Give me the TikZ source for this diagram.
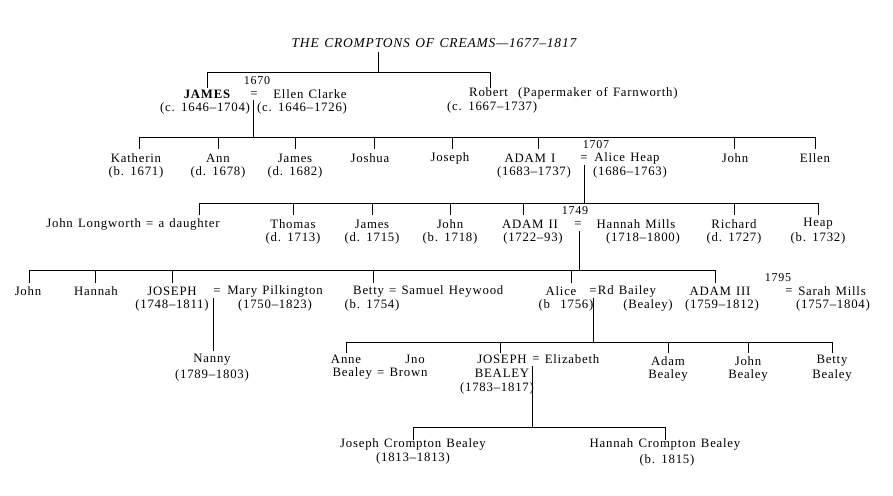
\documentclass[tikz,border=0pt]{standalone}
\usepackage{fontspec}
\setmainfont[LetterSpace=6,WordSpace=1.3]{Liberation Serif}
\begin{document}
\begin{tikzpicture}[x=1pt,y=-1pt,
  t/.style={inner sep=0pt,font=\fontsize{12.8}{13}\selectfont},
  yr/.style={inner sep=0pt,font=\fontsize{12}{12}\selectfont},
  ln/.style={line width=1pt}]
\useasboundingbox[fill=white] (0,0) rectangle (893,495);
% title
\node[t,font=\fontsize{13.5}{14}\itshape] (title) at (434,43) {THE CROMPTONS OF CREAMS---1677--1817};
\draw[ln] (378,52) -- (378,72);
\draw[ln] (207,88) |- (490,72) -- (490,88);
% generation 1
\node[t,font=\fontsize{12.8}{13}\bfseries] (james) at (207,94) {JAMES};
\node[yr] (y1670) at (257,81) {1670};
\node[t] (eq1) at (254,95) {=};
\node[t] (ellen) at (310,94) {Ellen Clarke};
\node[t] (jamesd) at (205,108) {(c. 1646--1704)};
\node[t] (ellend) at (302,108) {(c. 1646--1726)};
\node[t,anchor=west] (robert) at (469,93) {Robert\ \ (Papermaker of Farnworth)};
\node[t,anchor=west] (robertd) at (447,107) {(c. 1667--1737)};
\draw[ln] (253,100) -- (253,137);
\draw[ln] (139,137) -- (815,137);
\foreach \x in {139,218,295,374,452,538,734,815} \draw[ln] (\x,137) -- (\x,149);
% generation 2
\node[t] (kat) at (136,158) {Katherin}; \node[t] (katd) at (136,172) {(b. 1671)};
\node[t] (ann) at (218,158) {Ann}; \node[t] (annd) at (218,172) {(d. 1678)};
\node[t] (jam2) at (295,158) {James}; \node[t] (jam2d) at (295,172) {(d. 1682)};
\node[t] (joshua) at (370,158) {Joshua};
\node[t] (joseph1) at (450,158) {Joseph};
\node[t] (adam1) at (530,158) {ADAM I};
\node[yr] (y1707) at (596,145) {1707};
\node[t] (eq2) at (584,159) {=};
\node[t] (alice1) at (627,158) {Alice Heap};
\node[t] (adam1d) at (534,172) {(1683--1737)};
\node[t] (alice1d) at (630,172) {(1686--1763)};
\node[t] (john1) at (735,158) {John};
\node[t] (ellen2) at (815,158) {Ellen};
\draw[ln] (584,165) -- (584,203);
\draw[ln] (199,203) -- (818,203);
\foreach \x in {199,293,372,450,523,734,818} \draw[ln] (\x,203) -- (\x,215);
% generation 3
\node[t] (longw) at (133,224) {John Longworth = a daughter};
\node[t] (thomas) at (293,224) {Thomas}; \node[t] (thomasd) at (293,238) {(d. 1713)};
\node[t] (jam3) at (372,224) {James}; \node[t] (jam3d) at (372,238) {(d. 1715)};
\node[t] (john3) at (450,224) {John}; \node[t] (john3d) at (450,238) {(b. 1718)};
\node[t] (adam2) at (530,224) {ADAM II};
\node[yr] (y1749) at (575,211) {1749};
\node[t] (eq3) at (578,225) {=};
\node[t] (hannah) at (636,224) {Hannah Mills};
\node[t] (adam2d) at (533,238) {(1722--93)};
\node[t] (hannahd) at (643,238) {(1718--1800)};
\node[t] (richard) at (734,224) {Richard}; \node[t] (richardd) at (734,238) {(d. 1727)};
\node[t] (heap) at (818,224) {Heap}; \node[t] (heapd) at (818,238) {(b. 1732)};
\draw[ln] (579,231) -- (579,270);
\draw[ln] (29,270) -- (715,270);
\foreach \x in {29,95,172,373,571,715} \draw[ln] (\x,270) -- (\x,283);
% generation 4
\node[t] (john4) at (28,291) {John};
\node[t] (hannah4) at (96,291) {Hannah};
\node[t] (joseph4) at (172,291) {JOSEPH};
\node[t] (eq4) at (217,292) {=};
\node[t] (mary) at (275,291) {Mary Pilkington};
\node[t] (joseph4d) at (172,305) {(1748--1811)};
\node[t] (maryd) at (275,305) {(1750--1823)};
\node[t,anchor=west] (betty) at (353,291) {Betty = Samuel Heywood};
\node[t] (bettyd) at (372,305) {(b. 1754)};
\node[t] (alice4) at (561,291) {Alice};
\node[t] (eq5) at (593,292) {=};
\node[t] (rd) at (627,291) {Rd Bailey};
\node[t] (alice4d) at (566,305) {(b\ \ 1756)};
\node[t] (rdd) at (648,305) {(Bealey)};
\node[t] (adam3) at (720,291) {ADAM III};
\node[yr] (y1795) at (778,278) {1795};
\node[t] (eq6) at (789,292) {=};
\node[t] (sarah) at (832,291) {Sarah Mills};
\node[t] (adam3d) at (722,305) {(1759--1812)};
\node[t] (sarahd) at (833,305) {(1757--1804)};
\draw[ln] (213,298) -- (213,351);
\node[t] (nanny) at (212,360) {Nanny};
\node[t] (nannyd) at (212,375) {(1789--1803)};
\draw[ln] (593,298) -- (593,342);
\draw[ln] (346,342) -- (832,342);
\foreach \x in {346,500,668,748,832} \draw[ln] (\x,342) -- (\x,353);
% generation 5
\node[t] (anne) at (346,359) {Anne};
\node[t] (jno) at (415,359) {Jno};
\node[t] (anne2) at (380,373) {Bealey = Brown};
\node[t] (joseph5) at (502,359) {JOSEPH};
\node[t] (eq7) at (536,360) {=};
\node[t] (eliz) at (572,359) {Elizabeth};
\node[t] (bealey5) at (502,373) {BEALEY};
\node[t] (joseph5d) at (497,388) {(1783--1817)};
\node[t] (adamb) at (668,361) {Adam}; \node[t] (adamb2) at (668,375) {Bealey};
\node[t] (johnb) at (748,361) {John}; \node[t] (johnb2) at (748,375) {Bealey};
\node[t] (bettyb) at (832,361) {Betty}; \node[t] (bettyb2) at (832,375) {Bealey};
\draw[ln] (532,366) -- (532,427);
\draw[ln] (413,440) |- (665,427) -- (665,440);
\node[t] (jcb) at (413,444) {Joseph Crompton Bealey};
\node[t] (jcbd) at (413,458) {(1813--1813)};
\node[t] (hcb) at (665,444) {Hannah Crompton Bealey};
\node[t] (hcbd) at (667,460) {(b. 1815)};
\end{tikzpicture}
\end{document}
